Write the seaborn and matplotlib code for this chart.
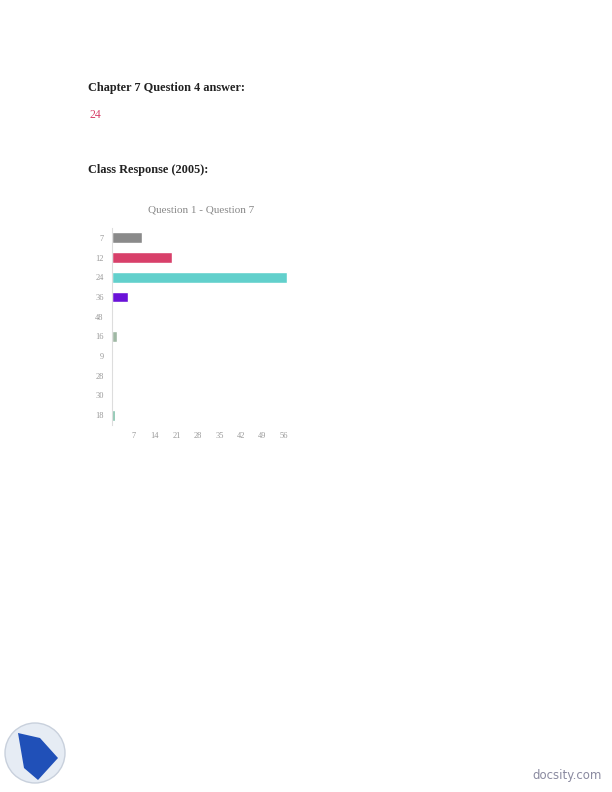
import pandas as pd
import matplotlib.pyplot as plt
import seaborn as sns
from matplotlib.patches import Ellipse, Polygon

# Answers given by the class
answers = ['7', '12', '24', '36', '48', '16', '9', '28', '30', '18']
counts = [9.7, 19.4, 57, 5.2, 0.4, 1.6, 0.3, 0.4, 0.3, 1.0]
bar_colors = ['#8a8a8a', '#d8406a', '#62d0cc', '#6a12d8', '#d0d0d0',
              '#9fb8a4', '#d8d8d8', '#d0d0d0', '#d8d8d8', '#7fc0a8']
x_ticks = [7, 14, 21, 28, 35, 42, 49, 56]

data = pd.DataFrame({'Answer': answers, 'Count': counts})

sns.set_style('white')
plt.rcParams['font.family'] = ['Liberation Serif', 'DejaVu Serif']

fig = plt.figure(figsize=(6.12, 7.92), dpi=100)

# page text above the chart
fig.text(88 / 612, 1 - 88 / 792, 'Chapter 7 Question 4 answer:', fontsize=8.8,
         fontweight='bold', va='center', color='#222222')
fig.text(89 / 612, 1 - 115 / 792, '24', fontsize=8.5, va='center', color='#d8406a')
fig.text(88 / 612, 1 - 170 / 792, 'Class Response (2005):', fontsize=8.8,
         fontweight='bold', va='center', color='#222222')

ax = fig.add_axes([112 / 612, 1 - 425 / 792, 178 / 612, 197 / 792])
sns.barplot(data=data, y='Answer', x='Count', hue='Answer', palette=bar_colors,
            orient='h', width=0.55, legend=False, ax=ax, saturation=1)

ax.set_xlim(0, 58)
ax.set_xticks(x_ticks)
ax.set_xticklabels([str(t) for t in x_ticks], fontsize=6, color='#999999')
ax.tick_params(axis='y', labelsize=6, labelcolor='#999999', length=0, pad=6)
ax.tick_params(axis='x', length=0, pad=5)
ax.set_xlabel('')
ax.set_ylabel('')
ax.set_title('Question 1 - Question 7', fontsize=8, color='#888888', pad=11)
for side in ['top', 'right', 'bottom']:
    ax.spines[side].set_visible(False)
ax.spines['left'].set_color('#dddddd')
ax.spines['left'].set_linewidth(0.8)

# footer: logo and site name
fig.patches.append(Ellipse((35 / 612, 1 - 753 / 792), 60 / 612, 60 / 792,
                           transform=fig.transFigure, facecolor='#e6ecf4',
                           edgecolor='#c8d0dc', linewidth=1))
fig.patches.append(Polygon([[18 / 612, 1 - 733 / 792], [40 / 612, 1 - 738 / 792],
                            [58 / 612, 1 - 758 / 792], [38 / 612, 1 - 780 / 792],
                            [24 / 612, 1 - 768 / 792]], closed=True,
                           transform=fig.transFigure, facecolor='#2050b8',
                           edgecolor='none'))
fig.text(567 / 612, 1 - 775 / 792, 'docsity.com', fontsize=8.5, ha='center',
         va='center', color='#8a8aa0', family=['DejaVu Sans'])

fig.savefig('out.png', dpi=100)
